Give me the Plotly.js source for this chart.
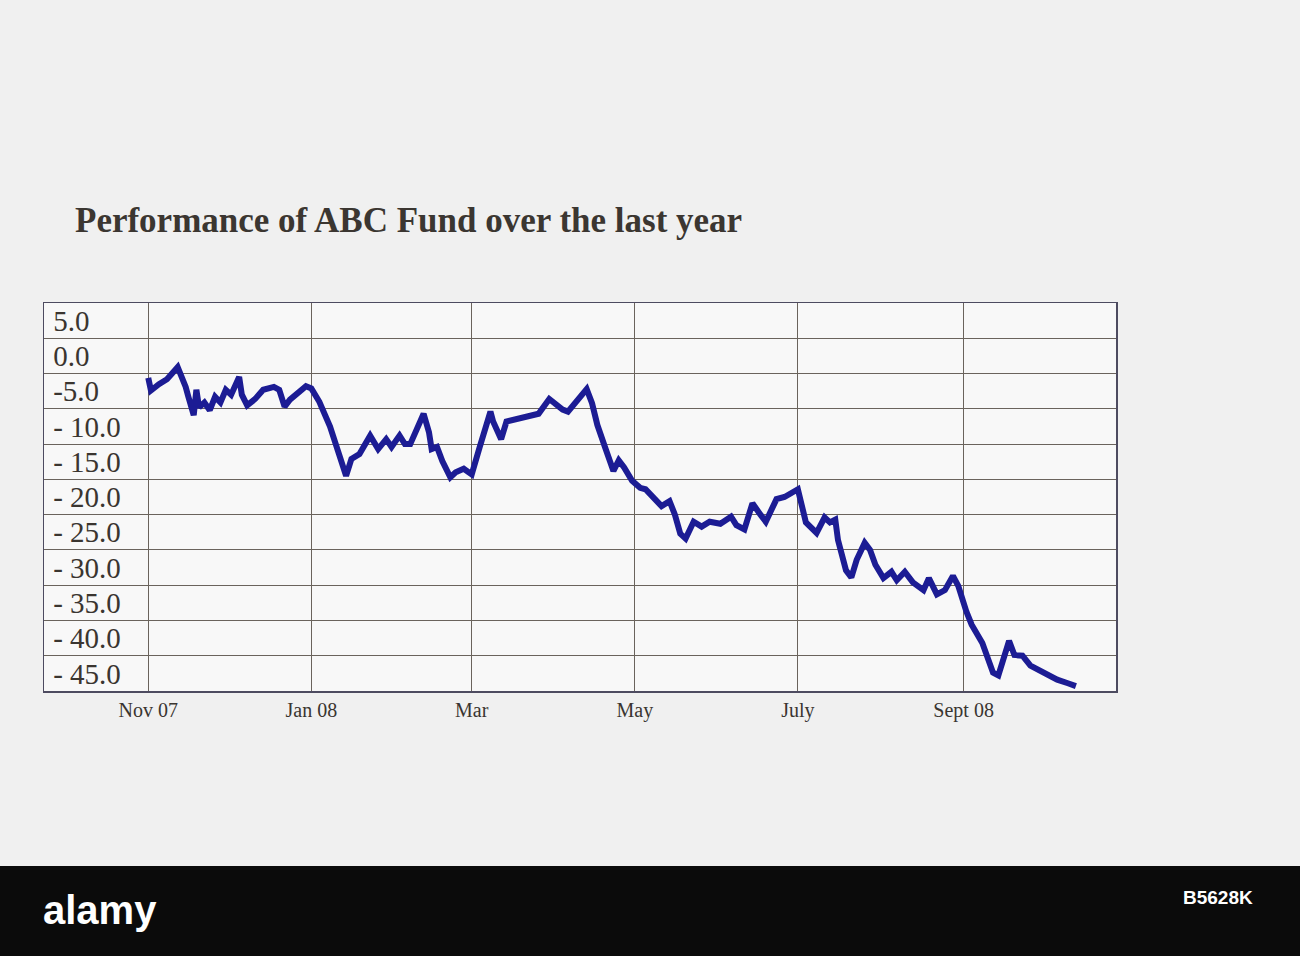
<!DOCTYPE html>
<html>
<head>
<meta charset="utf-8">
<script src="https://cdn.plot.ly/plotly-3.0.1.min.js"></script>
<style>html,body{margin:0;padding:0;background:#f0f0f0;}#chart{width:1300px;height:956px;}</style>
</head>
<body>
<div id="chart"></div>
<script>
const dates = [
"2007-11-01","2007-11-02","2007-11-05","2007-11-08","2007-11-12","2007-11-14","2007-11-15","2007-11-16","2007-11-18","2007-11-19",
"2007-11-20","2007-11-22","2007-11-24","2007-11-26","2007-11-28","2007-11-30","2007-12-02","2007-12-05","2007-12-06","2007-12-08",
"2007-12-11","2007-12-14","2007-12-18","2007-12-20","2007-12-22","2007-12-24","2007-12-27","2007-12-30","2008-01-01",
"2008-01-04","2008-01-08","2008-01-11","2008-01-14","2008-01-16","2008-01-19","2008-01-23","2008-01-26","2008-01-29","2008-01-31",
"2008-02-03","2008-02-05","2008-02-07","2008-02-10","2008-02-12","2008-02-14","2008-02-15","2008-02-17","2008-02-19","2008-02-22",
"2008-02-24","2008-02-27","2008-03-01",
"2008-03-04","2008-03-08","2008-03-09","2008-03-12","2008-03-14","2008-03-18","2008-03-22","2008-03-26","2008-03-30","2008-04-04",
"2008-04-06","2008-04-09","2008-04-13","2008-04-15","2008-04-17","2008-04-20","2008-04-23","2008-04-25","2008-04-27","2008-04-30",
"2008-05-03","2008-05-05","2008-05-08","2008-05-11","2008-05-14","2008-05-16","2008-05-18","2008-05-20","2008-05-23","2008-05-26",
"2008-05-29","2008-06-02","2008-06-06","2008-06-08","2008-06-11","2008-06-14","2008-06-17","2008-06-19","2008-06-23","2008-06-26",
"2008-07-01",
"2008-07-02","2008-07-04","2008-07-08","2008-07-11","2008-07-13","2008-07-15","2008-07-16","2008-07-19","2008-07-21","2008-07-23",
"2008-07-26","2008-07-28","2008-07-30","2008-08-02","2008-08-05","2008-08-07","2008-08-10","2008-08-13","2008-08-17","2008-08-19",
"2008-08-22","2008-08-25","2008-08-28","2008-08-30",
"2008-09-02","2008-09-04","2008-09-08","2008-09-10","2008-09-12","2008-09-14","2008-09-16","2008-09-18","2008-09-20","2008-09-23",
"2008-09-26","2008-10-01","2008-10-06","2008-10-10","2008-10-13"
];
const performance = [
-3.1,-4.9,-4.0,-3.3,-1.6,-3.3,-4.4,-5.8,-8.4,-4.8,
-7.3,-6.6,-7.7,-5.8,-6.6,-4.8,-5.5,-3.0,-5.5,-7.0,
-6.1,-4.8,-4.4,-4.8,-7.2,-6.2,-5.3,-4.3,-4.6,
-6.5,-10.0,-13.4,-17.0,-14.6,-13.9,-11.3,-13.2,-11.8,-12.9,
-11.3,-12.5,-12.5,-10.0,-8.2,-10.8,-13.2,-12.9,-14.9,-17.2,
-16.5,-16.0,-16.8,
-12.9,-7.9,-9.3,-11.8,-9.3,-9.0,-8.6,-8.2,-6.1,-7.6,
-7.9,-6.4,-4.7,-6.7,-9.8,-13.1,-16.3,-14.8,-15.8,-17.7,
-18.7,-18.9,-20.2,-21.3,-20.6,-22.5,-25.2,-25.9,-23.5,-24.2,
-23.5,-23.8,-22.8,-24.0,-24.6,-20.9,-22.5,-23.5,-20.3,-20.0,
-18.9,
-20.4,-23.6,-25.1,-22.9,-23.6,-23.2,-26.1,-30.4,-31.4,-28.9,
-26.5,-27.5,-29.6,-31.5,-30.6,-31.8,-30.6,-32.1,-33.2,-31.5,
-33.8,-33.2,-31.2,-32.6,
-36.2,-38.1,-40.7,-42.8,-44.9,-45.3,-42.8,-40.4,-42.4,-42.5,
-43.9,-44.9,-45.9,-46.4,-46.8
];
const xTickVals = ["2007-11-01","2008-01-01","2008-03-01","2008-05-01","2008-07-01","2008-09-01"];
const xTickText = ["Nov 07","Jan 08","Mar","May","July","Sept 08"];
const yTickVals = [-45,-40,-35,-30,-25,-20,-15,-10,-5,0,5];
const yTickText = ["- 45.0","- 40.0","- 35.0","- 30.0","- 25.0","- 20.0","- 15.0","- 10.0","-5.0","0.0","5.0"];
const chartTitle = "Performance of ABC Fund over the last year";

const gridCol = "#6a635c";
const serif = "Liberation Serif, Times New Roman, serif";

const trace = {
  x: dates, y: performance, type: "scatter", mode: "lines",
  line: {color: "#1c1c94", width: 6, shape: "linear"},
  hoverinfo: "skip"
};

const layout = {
  width: 1300, height: 956,
  margin: {l: 44, r: 184, t: 303, b: 265, pad: 0},
  paper_bgcolor: "#f0f0f0",
  plot_bgcolor: "#f8f8f8",
  showlegend: false,
  title: {
    text: "<b>" + chartTitle + "</b>",
    font: {family: serif, size: 35, color: "#3b3631"},
    x: 75/1300, xref: "container", xanchor: "left",
    y: 1 - 220/956, yref: "container", yanchor: "middle"
  },
  xaxis: {
    type: "date",
    range: ["2007-09-23", "2008-10-28"],
    tickmode: "array", tickvals: xTickVals, ticktext: xTickText,
    showgrid: true, gridcolor: gridCol, gridwidth: 1,
    showline: true, mirror: true, linecolor: "#4d4b60", linewidth: 1.5,
    zeroline: false, ticks: "",
    tickfont: {family: serif, size: 20, color: "#3a3530"}
  },
  yaxis: {
    range: [-47.5, 7.5],
    tickmode: "array", tickvals: yTickVals, ticktext: yTickText,
    ticklabelposition: "inside", ticklabelstandoff: 12,
    showgrid: false,
    minor: {tickmode: "linear", tick0: 2.5, dtick: 5, showgrid: true, gridcolor: gridCol, gridwidth: 1, ticks: ""},
    showline: true, mirror: true, linecolor: "#4d4b60", linewidth: 1.5,
    zeroline: false, ticks: "",
    tickfont: {family: serif, size: 29, color: "#3a3530"}
  },
  shapes: [
    {type: "rect", xref: "paper", yref: "paper", x0: -0.06, x1: 1.2, y0: (691-866)/388, y1: -0.72,
     fillcolor: "#0b0b0b", line: {width: 0}}
  ],
  annotations: [
    {text: "<b>alamy</b>", xref: "paper", yref: "paper", x: (100-44)/1072, y: (691-910)/388,
     xanchor: "center", yanchor: "middle", showarrow: false,
     font: {family: "Liberation Sans, Arial, sans-serif", size: 40, color: "#ffffff"}},
    {text: "<b>B5628K</b>", xref: "paper", yref: "paper", x: (1218-44)/1072, y: (691-897)/388,
     xanchor: "center", yanchor: "middle", showarrow: false,
     font: {family: "Liberation Sans, Arial, sans-serif", size: 19, color: "#ffffff"}}
  ]
};

Plotly.newPlot("chart", [trace], layout, {displayModeBar: false, staticPlot: true});
</script>
</body>
</html>
